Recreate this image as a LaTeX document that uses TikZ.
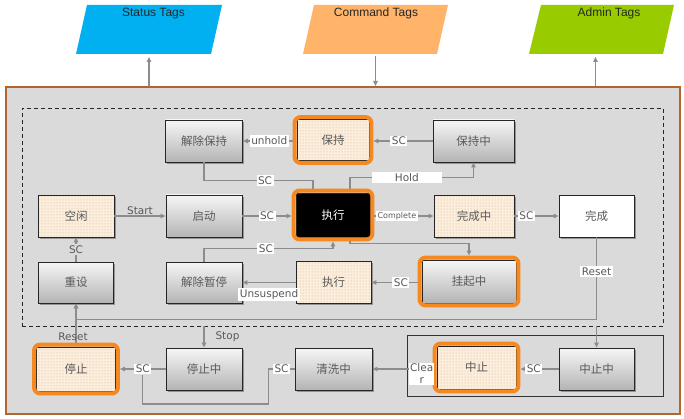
\documentclass[tikz,border=0pt]{standalone}
\usepackage{fontspec}
\setmainfont{DejaVu Sans}
\newfontfamily\cjk{Noto Sans CJK SC}
\newfontfamily\arialf{Liberation Sans}
\usetikzlibrary{patterns, shadows, fit, arrows.meta, calc}
\definecolor{mainfill}{HTML}{DADADA}
\definecolor{mainborder}{HTML}{B0662E}
\definecolor{hlorange}{HTML}{F5891F}
\definecolor{peach}{HTML}{FBEEDD}
\definecolor{dotc}{HTML}{D9AE82}
\definecolor{linec}{HTML}{8C8C8C}
\definecolor{txtgray}{HTML}{595959}
\definecolor{gtop}{HTML}{F6F6F6}
\definecolor{gbot}{HTML}{B4B4B4}
\definecolor{statusblue}{HTML}{00B0F0}
\definecolor{cmdorange}{HTML}{FFB469}
\definecolor{admingreen}{HTML}{99CC00}
\begin{document}
\begin{tikzpicture}[x=1pt,y=-1pt,
  shadowed/.style={drop shadow={shadow xshift=1.6pt, shadow yshift=-1.6pt, opacity=0.45, fill=black!75}},
  box/.style={draw=black!85, line width=0.9pt, font=\cjk\fontsize{11.5}{13}\selectfont, text=txtgray, inner sep=0pt, minimum width=77pt, minimum height=42pt, shadowed},
  graybox/.style={box, top color=gtop, bottom color=gbot},
  dotbox/.style={box, preaction={fill=peach}, pattern=dots, pattern color=dotc},
  blackbox/.style={box, fill=black, text=white},
  whitebox/.style={box, fill=white},
  frame/.style={draw=hlorange, line width=4pt, rounded corners=6pt, inner sep=2pt, fit=#1},
  arr/.style={draw=linec, line width=1.1pt, -{Triangle[length=5pt,width=4.5pt]}},
  ln/.style={draw=linec, line width=1.1pt},
  lab/.style={fill=white, text=txtgray, font=\fontsize{10.5}{12}\selectfont, inner sep=1.5pt},
  labt/.style={text=txtgray, font=\fontsize{10.5}{12}\selectfont, inner sep=1pt},
  tagbb/.style={minimum height=49pt, inner sep=0pt, outer sep=0pt},
  tagtext/.style={font=\arialf\fontsize{12}{14}\selectfont, text=black!85, inner sep=0pt},
  mainbox/.style={draw=mainborder, line width=2pt, fill=mainfill},
  dashbox/.style={draw=black!85, line width=0.9pt, dash pattern=on 4pt off 3pt},
  plainbox/.style={draw=black!80, line width=0.9pt}
]
\useasboundingbox (0,0) rectangle (684,419);
\fill[white] (0,0) rectangle (684,419);

% tags
\node[tagbb, minimum width=146pt] (st) at (149,29.5) {};
\fill[statusblue] ([xshift=11pt]st.north west) -- (st.north east) -- ([xshift=-11pt]st.south east) -- (st.south west) -- cycle;
\node[tagtext] (stt) at (153.5,13.5) {Status Tags};
\node[tagbb, minimum width=145pt] (ct) at (375.5,29.5) {};
\fill[cmdorange] ([xshift=11pt]ct.north west) -- (ct.north east) -- ([xshift=-11pt]ct.south east) -- (ct.south west) -- cycle;
\node[tagtext] (ctt) at (376,13.5) {Command Tags};
\node[tagbb, minimum width=145pt] (at) at (601.5,29.5) {};
\fill[admingreen] ([xshift=12pt]at.north west) -- (at.north east) -- ([xshift=-11pt]at.south east) -- (at.south west) -- cycle;
\node[tagtext] (att) at (609,13.5) {Admin Tags};

% containers
\node[mainbox, minimum width=674pt, minimum height=327pt] (mb) at (343,250.5) {};
\node[dashbox, minimum width=641pt, minimum height=218pt] (db) at (342.5,217) {};
\node[plainbox, minimum width=256pt, minimum height=61pt] (ab) at (535,365.5) {};

% states
\node[graybox] (jcbc) at (204,141) {解除保持};
\node[dotbox, minimum width=72pt, minimum height=41pt] (bc) at (333,140) {保持};
\node[graybox, minimum width=81pt] (bcz) at (473.5,141) {保持中};
\node[dotbox, minimum width=76pt] (kx) at (76,216) {空闲};
\node[graybox, minimum width=76pt] (qd) at (204,216) {启动};
\node[blackbox, minimum width=74pt, minimum height=44pt] (zx) at (333,215) {执行};
\node[dotbox, minimum width=80pt] (wcz) at (474,216) {完成中};
\node[whitebox, minimum width=75pt] (wc) at (596.5,216) {完成};
\node[graybox, minimum width=75pt, minimum height=41pt] (cs) at (76,282.5) {重设};
\node[graybox, minimum width=76pt, minimum height=41pt] (jczt) at (204,282.5) {解除暂停};
\node[dotbox, minimum width=75pt] (zx2) at (333.5,282.5) {执行};
\node[graybox, minimum width=94pt, minimum height=43pt] (gq) at (469,281.5) {挂起中};
\node[dotbox, minimum width=79pt, minimum height=44pt] (tz) at (76,369) {停止};
\node[graybox, minimum width=76pt] (tzz) at (204,369) {停止中};
\node[graybox, minimum width=77pt] (qxz) at (333.5,369) {清洗中};
\node[dotbox, minimum width=79pt, minimum height=43pt] (zz) at (476.5,367.5) {中止};
\node[graybox, minimum width=75pt] (zzz) at (596.5,369) {中止中};

% highlight frames
\node[frame=(bc)] (bcf) {};
\node[frame=(zx)] (zxf) {};
\node[frame=(gq)] (gqf) {};
\node[frame=(tz)] (tzf) {};
\node[frame=(zz)] (zzf) {};

% tag connectors
\draw[arr] (st.south |- mb.north) -- ([yshift=-3pt]st.south);
\draw[arr] ([yshift=-2pt]ct.south) -- (ct.south |- mb.north);
\draw[arr] ([xshift=-6pt]at.south |- mb.north) -- ([xshift=-6pt,yshift=-3pt]at.south);

% state connectors
\draw[arr] (bcf.west |- jcbc) -- node[lab,pos=0.47]{unhold} (jcbc.east);
\draw[arr] (bcz.west) -- node[lab,pos=0.57]{SC} (bcf.east |- bcz.west);
\draw[ln] (jcbc.south) -- ++(0,18) -| node[lab,pos=0.28]{SC} ([xshift=-20pt]zxf.north);
\draw[arr] ([xshift=17pt]zxf.north) -- ++(0,-11) -| node[lab,pos=0.23,minimum width=70pt,minimum height=11pt,inner sep=0pt]{Hold} (bcz.south);
\draw[arr] (kx) -- node[labt,above]{Start} (qd);
\draw[arr] (qd) -- node[lab]{SC} (zxf.west |- qd);
\draw[arr] (zxf.east |- wcz) -- node[lab,font=\fontsize{8}{9}\selectfont,pos=0.38]{Complete} (wcz);
\draw[arr] (wcz) -- node[lab,pos=0.27]{SC} (wc);
\draw[arr] ([xshift=17pt]zxf.south) -- ++(0,2) -| (gqf.north);
\draw[arr] (jczt.north) -- ++(0,-13) -| node[lab,pos=0.24]{SC} (zxf.south);
\draw[arr] (gqf.west |- zx2) -- node[lab,pos=0.36]{SC} (zx2);
\draw[arr] (zx2) -- node[lab,below=5pt]{Unsuspend} (jczt);
\draw[arr] (cs) -- node[lab,fill=mainfill]{SC} (kx);
\draw[arr] (wc.south) -- node[lab,pos=0.42]{Reset} ++(0,82) -| (cs.south);
\draw[arr] (tzf.north) -- node[labt,pos=0.15,xshift=-3pt]{Reset} (cs.south);
\draw[arr] (db.south -| tzz.north) -- node[labt,right=10pt]{Stop} (tzz.north);
\draw[arr] (tzz) -- node[lab] (sc1) {SC} (tzf.east |- tzz);
\draw[ln] (qxz.west) -- node[lab]{SC} ++(-26,0) -- ++(0,35) -| (sc1.south);
\draw[arr] (zzf.west |- qxz) -- node[lab,pos=0.18,yshift=-5pt,align=center,inner sep=1pt]{Clea\\r} (qxz);
\draw[arr] (zzz) -- node[lab,pos=0.65]{SC} (zzf.east |- zzz);
\draw[arr] (db.south -| zzz.north) -- (zzz.north);
\end{tikzpicture}
\end{document}
